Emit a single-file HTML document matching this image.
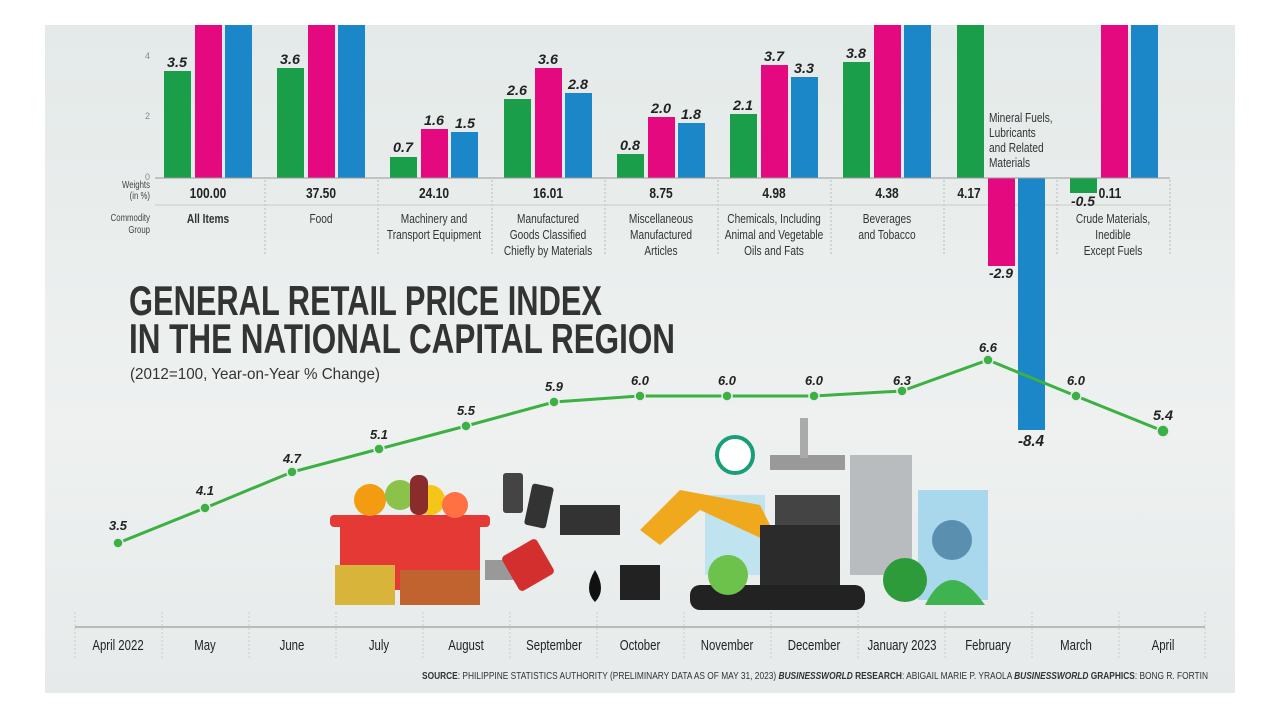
<!DOCTYPE html>
<html><head><meta charset="utf-8"><style>
html,body{margin:0;padding:0;background:#fff;}
svg{display:block;font-family:"Liberation Sans Narrow","Liberation Sans",sans-serif;}
</style></head><body>
<svg width="1280" height="720" viewBox="0 0 1280 720" xmlns="http://www.w3.org/2000/svg">
<defs>
<linearGradient id="bg" x1="0" y1="0" x2="0" y2="1">
<stop offset="0" stop-color="#e4eae9"/><stop offset="0.6" stop-color="#eef1f0"/><stop offset="1" stop-color="#e6eaea"/>
</linearGradient>
</defs>
<rect width="1280" height="720" fill="#fff"/>
<rect x="45" y="25" width="1190" height="668" fill="url(#bg)"/>

<g font-size="9" fill="#888" text-anchor="end">
<text x="150" y="59">4</text><text x="150" y="119">2</text><text x="150" y="180">0</text>
</g>

<g stroke="#bbb" stroke-dasharray="2,2" stroke-width="1">
<line x1="265" y1="180" x2="265" y2="255"/><line x1="378" y1="180" x2="378" y2="255"/>
<line x1="492" y1="180" x2="492" y2="255"/><line x1="605" y1="180" x2="605" y2="255"/>
<line x1="718" y1="180" x2="718" y2="255"/><line x1="831" y1="180" x2="831" y2="255"/>
<line x1="944" y1="180" x2="944" y2="255"/><line x1="1057" y1="180" x2="1057" y2="255"/>
<line x1="1170" y1="180" x2="1170" y2="255"/>
</g>
<line x1="155" y1="205" x2="1170" y2="205" stroke="#ccc" stroke-width="1"/>

<g>
<rect x="164" y="71" width="27" height="107" fill="#1a9e4a"/>
<rect x="195" y="25" width="27" height="153" fill="#e5097f"/>
<rect x="225" y="25" width="27" height="153" fill="#1b86c8"/>
<rect x="277" y="68" width="27" height="110" fill="#1a9e4a"/>
<rect x="308" y="25" width="27" height="153" fill="#e5097f"/>
<rect x="338" y="25" width="27" height="153" fill="#1b86c8"/>
<rect x="390" y="157" width="27" height="21" fill="#1a9e4a"/>
<rect x="421" y="129" width="27" height="49" fill="#e5097f"/>
<rect x="451" y="132" width="27" height="46" fill="#1b86c8"/>
<rect x="504" y="99" width="27" height="79" fill="#1a9e4a"/>
<rect x="535" y="68" width="27" height="110" fill="#e5097f"/>
<rect x="565" y="93" width="27" height="85" fill="#1b86c8"/>
<rect x="617" y="154" width="27" height="24" fill="#1a9e4a"/>
<rect x="648" y="117" width="27" height="61" fill="#e5097f"/>
<rect x="678" y="123" width="27" height="55" fill="#1b86c8"/>
<rect x="730" y="114" width="27" height="64" fill="#1a9e4a"/>
<rect x="761" y="65" width="27" height="113" fill="#e5097f"/>
<rect x="791" y="77" width="27" height="101" fill="#1b86c8"/>
<rect x="843" y="62" width="27" height="116" fill="#1a9e4a"/>
<rect x="874" y="25" width="27" height="153" fill="#e5097f"/>
<rect x="904" y="25" width="27" height="153" fill="#1b86c8"/>
<rect x="957" y="25" width="27" height="153" fill="#1a9e4a"/>
<rect x="988" y="178" width="27" height="88" fill="#e5097f"/>
<rect x="1018" y="178" width="27" height="252" fill="#1b86c8"/>
<rect x="1070" y="178" width="27" height="15" fill="#1a9e4a"/>
<rect x="1101" y="25" width="27" height="153" fill="#e5097f"/>
<rect x="1131" y="25" width="27" height="153" fill="#1b86c8"/>
</g>
<line x1="155" y1="178" x2="1170" y2="178" stroke="#999" stroke-width="1"/>

<g font-size="14" font-style="italic" font-weight="bold" fill="#222" text-anchor="middle">
<text x="177" y="67" textLength="20" lengthAdjust="spacingAndGlyphs">3.5</text>
<text x="290" y="64" textLength="20" lengthAdjust="spacingAndGlyphs">3.6</text>
<text x="403" y="152" textLength="20" lengthAdjust="spacingAndGlyphs">0.7</text><text x="434" y="125" textLength="20" lengthAdjust="spacingAndGlyphs">1.6</text><text x="465" y="128" textLength="20" lengthAdjust="spacingAndGlyphs">1.5</text>
<text x="517" y="95" textLength="20" lengthAdjust="spacingAndGlyphs">2.6</text><text x="548" y="64" textLength="20" lengthAdjust="spacingAndGlyphs">3.6</text><text x="578" y="89" textLength="20" lengthAdjust="spacingAndGlyphs">2.8</text>
<text x="630" y="150" textLength="20" lengthAdjust="spacingAndGlyphs">0.8</text><text x="661" y="113" textLength="20" lengthAdjust="spacingAndGlyphs">2.0</text><text x="691" y="119" textLength="20" lengthAdjust="spacingAndGlyphs">1.8</text>
<text x="743" y="110" textLength="20" lengthAdjust="spacingAndGlyphs">2.1</text><text x="774" y="61" textLength="20" lengthAdjust="spacingAndGlyphs">3.7</text><text x="804" y="73" textLength="20" lengthAdjust="spacingAndGlyphs">3.3</text>
<text x="856" y="58" textLength="20" lengthAdjust="spacingAndGlyphs">3.8</text>
<text x="1001" y="278" textLength="24" lengthAdjust="spacingAndGlyphs">-2.9</text>
<text x="1031" y="446" font-size="16" textLength="26" lengthAdjust="spacingAndGlyphs">-8.4</text>
<text x="1083" y="206" textLength="24" lengthAdjust="spacingAndGlyphs">-0.5</text>
</g>

<g font-size="10" fill="#444" text-anchor="end">
<g transform="translate(150 0) scale(0.78 1)">
<text x="0" y="188">Weights</text><text x="0" y="199">(in %)</text>
<text x="0" y="221">Commodity</text><text x="0" y="233">Group</text>
</g></g>
<g font-size="15" font-weight="bold" fill="#222" text-anchor="middle">
<g transform="translate(208 0) scale(0.8 1)"><text x="0" y="198">100.00</text></g>
<g transform="translate(321 0) scale(0.8 1)"><text x="0" y="198">37.50</text></g>
<g transform="translate(434 0) scale(0.8 1)"><text x="0" y="198">24.10</text></g>
<g transform="translate(548 0) scale(0.8 1)"><text x="0" y="198">16.01</text></g>
<g transform="translate(661 0) scale(0.8 1)"><text x="0" y="198">8.75</text></g>
<g transform="translate(774 0) scale(0.8 1)"><text x="0" y="198">4.98</text></g>
<g transform="translate(887 0) scale(0.8 1)"><text x="0" y="198">4.38</text></g>
<g transform="translate(969 0) scale(0.8 1)"><text x="0" y="198">4.17</text></g>
<g transform="translate(1110 0) scale(0.8 1)"><text x="0" y="198">0.11</text></g>
</g>
<g font-size="13" fill="#333" text-anchor="middle">
<g transform="translate(208 0) scale(0.78 1)"><text x="0" y="223" font-weight="bold">All Items</text></g>
<g transform="translate(321 0) scale(0.78 1)"><text x="0" y="223">Food</text></g>
<g transform="translate(434 0) scale(0.78 1)"><text x="0" y="223">Machinery and</text><text x="0" y="239">Transport Equipment</text></g>
<g transform="translate(548 0) scale(0.78 1)"><text x="0" y="223">Manufactured</text><text x="0" y="239">Goods Classified</text><text x="0" y="255">Chiefly by Materials</text></g>
<g transform="translate(661 0) scale(0.78 1)"><text x="0" y="223">Miscellaneous</text><text x="0" y="239">Manufactured</text><text x="0" y="255">Articles</text></g>
<g transform="translate(774 0) scale(0.78 1)"><text x="0" y="223">Chemicals, Including</text><text x="0" y="239">Animal and Vegetable</text><text x="0" y="255">Oils and Fats</text></g>
<g transform="translate(887 0) scale(0.78 1)"><text x="0" y="223">Beverages</text><text x="0" y="239">and Tobacco</text></g>
<g transform="translate(1113 0) scale(0.78 1)"><text x="0" y="223">Crude Materials,</text><text x="0" y="239">Inedible</text><text x="0" y="255">Except Fuels</text></g>
</g>
<g font-size="13" fill="#333">
<g transform="translate(989 0) scale(0.78 1)">
<text x="0" y="122">Mineral Fuels,</text><text x="0" y="137">Lubricants</text>
<text x="0" y="152">and Related</text><text x="0" y="167">Materials</text>
</g></g>

<g fill="#333" font-weight="bold" font-size="42">
<text x="129" y="315" textLength="473" lengthAdjust="spacingAndGlyphs">GENERAL RETAIL PRICE INDEX</text>
<text x="129" y="353" textLength="546" lengthAdjust="spacingAndGlyphs">IN THE NATIONAL CAPITAL REGION</text>
</g>
<text x="130" y="379" font-size="16" fill="#333" textLength="250" lengthAdjust="spacingAndGlyphs">(2012=100, Year-on-Year % Change)</text>

<g>
<rect x="340" y="520" width="140" height="70" rx="4" fill="#e53935"/>
<rect x="330" y="515" width="160" height="12" rx="4" fill="#e53935"/>
<circle cx="370" cy="500" r="16" fill="#f39c12"/><circle cx="400" cy="495" r="15" fill="#8bc34a"/>
<circle cx="430" cy="500" r="15" fill="#f5c518"/><circle cx="455" cy="505" r="13" fill="#ff7043"/>
<rect x="410" y="475" width="18" height="40" rx="8" fill="#8b2c2c"/>
<rect x="335" y="565" width="60" height="40" fill="#d8b43a"/>
<rect x="400" y="570" width="80" height="35" fill="#c0632f"/>
<rect x="503" y="473" width="20" height="40" rx="3" fill="#444"/>
<rect x="528" y="485" width="22" height="42" rx="3" fill="#333" transform="rotate(12 539 506)"/>
<rect x="560" y="505" width="60" height="30" fill="#333"/>
<rect x="485" y="560" width="40" height="20" fill="#999"/>
<rect x="508" y="545" width="40" height="40" rx="4" fill="#d32f2f" transform="rotate(-30 528 565)"/>
<path d="M595 570 q-12 20 0 32 q12 -12 0 -32z" fill="#111"/>
<rect x="705" y="495" width="60" height="80" fill="#bfe3ef"/>
<path d="M640 530 L680 490 L760 505 L775 535 L765 540 L700 510 L660 545z" fill="#f0a81c"/>
<rect x="620" y="565" width="40" height="35" fill="#222"/>
<rect x="775" y="495" width="65" height="80" fill="#444"/>
<rect x="760" y="525" width="80" height="60" fill="#2b2b2b"/>
<rect x="690" y="585" width="175" height="25" rx="10" fill="#222"/>
<circle cx="735" cy="455" r="18" fill="#fff" stroke="#1a9e7a" stroke-width="4"/>
<rect x="770" y="455" width="75" height="15" fill="#999"/>
<rect x="800" y="418" width="8" height="40" fill="#aaa"/>
<rect x="850" y="455" width="62" height="120" fill="#b9bcbf"/>
<rect x="918" y="490" width="70" height="110" fill="#a9d8ec"/>
<circle cx="952" cy="540" r="20" fill="#5a8fb0"/>
<circle cx="905" cy="580" r="22" fill="#2e9b3a"/>
<path d="M925 605 q25 -50 60 0z" fill="#3fb34f"/>
<rect x="708" y="555" width="40" height="40" rx="20" fill="#6cc24a"/>
</g>

<polyline fill="none" stroke="#3cb043" stroke-width="3"
points="118,543 205,508 292,472 379,449 466,426 554,402 640,396 727,396 814,396 902,391 988,360 1076,396 1163,431"/>
<g fill="#3cb043" stroke="#e8eeec" stroke-width="1.5">
<circle cx="118" cy="543" r="5"/><circle cx="205" cy="508" r="5"/><circle cx="292" cy="472" r="5"/>
<circle cx="379" cy="449" r="5"/><circle cx="466" cy="426" r="5"/><circle cx="554" cy="402" r="5"/>
<circle cx="640" cy="396" r="5"/><circle cx="727" cy="396" r="5"/><circle cx="814" cy="396" r="5"/>
<circle cx="902" cy="391" r="5"/><circle cx="988" cy="360" r="5"/><circle cx="1076" cy="396" r="5"/>
<circle cx="1163" cy="431" r="6"/>
</g>
<g font-size="13" font-style="italic" font-weight="bold" fill="#222" text-anchor="middle">
<text x="118" y="530" textLength="18" lengthAdjust="spacingAndGlyphs">3.5</text><text x="205" y="495" textLength="18" lengthAdjust="spacingAndGlyphs">4.1</text><text x="292" y="463" textLength="18" lengthAdjust="spacingAndGlyphs">4.7</text>
<text x="379" y="439" textLength="18" lengthAdjust="spacingAndGlyphs">5.1</text><text x="466" y="415" textLength="18" lengthAdjust="spacingAndGlyphs">5.5</text><text x="554" y="391" textLength="18" lengthAdjust="spacingAndGlyphs">5.9</text>
<text x="640" y="385" textLength="18" lengthAdjust="spacingAndGlyphs">6.0</text><text x="727" y="385" textLength="18" lengthAdjust="spacingAndGlyphs">6.0</text><text x="814" y="385" textLength="18" lengthAdjust="spacingAndGlyphs">6.0</text>
<text x="902" y="385" textLength="18" lengthAdjust="spacingAndGlyphs">6.3</text><text x="988" y="352" textLength="18" lengthAdjust="spacingAndGlyphs">6.6</text><text x="1076" y="385" textLength="18" lengthAdjust="spacingAndGlyphs">6.0</text>
<text x="1163" y="420" font-size="14" textLength="20" lengthAdjust="spacingAndGlyphs">5.4</text>
</g>

<line x1="75" y1="627" x2="1205" y2="627" stroke="#aaa" stroke-width="1.5"/>
<g stroke="#ccc" stroke-dasharray="2,2">
<line x1="75" y1="612" x2="75" y2="660"/><line x1="162" y1="612" x2="162" y2="660"/>
<line x1="249" y1="612" x2="249" y2="660"/><line x1="336" y1="612" x2="336" y2="660"/>
<line x1="423" y1="612" x2="423" y2="660"/><line x1="510" y1="612" x2="510" y2="660"/>
<line x1="597" y1="612" x2="597" y2="660"/><line x1="684" y1="612" x2="684" y2="660"/>
<line x1="771" y1="612" x2="771" y2="660"/><line x1="858" y1="612" x2="858" y2="660"/>
<line x1="945" y1="612" x2="945" y2="660"/><line x1="1032" y1="612" x2="1032" y2="660"/>
<line x1="1119" y1="612" x2="1119" y2="660"/><line x1="1205" y1="612" x2="1205" y2="660"/>
</g>
<g font-size="15" fill="#222" text-anchor="middle">
<g transform="translate(118 0) scale(0.76 1)"><text x="0" y="650">April 2022</text></g>
<g transform="translate(205 0) scale(0.76 1)"><text x="0" y="650">May</text></g>
<g transform="translate(292 0) scale(0.76 1)"><text x="0" y="650">June</text></g>
<g transform="translate(379 0) scale(0.76 1)"><text x="0" y="650">July</text></g>
<g transform="translate(466 0) scale(0.76 1)"><text x="0" y="650">August</text></g>
<g transform="translate(554 0) scale(0.76 1)"><text x="0" y="650">September</text></g>
<g transform="translate(640 0) scale(0.76 1)"><text x="0" y="650">October</text></g>
<g transform="translate(727 0) scale(0.76 1)"><text x="0" y="650">November</text></g>
<g transform="translate(814 0) scale(0.76 1)"><text x="0" y="650">December</text></g>
<g transform="translate(902 0) scale(0.76 1)"><text x="0" y="650">January 2023</text></g>
<g transform="translate(988 0) scale(0.76 1)"><text x="0" y="650">February</text></g>
<g transform="translate(1076 0) scale(0.76 1)"><text x="0" y="650">March</text></g>
<g transform="translate(1163 0) scale(0.76 1)"><text x="0" y="650">April</text></g>
</g>
<text x="1208" y="679" font-size="10" fill="#333" text-anchor="end" textLength="786" lengthAdjust="spacingAndGlyphs"><tspan font-weight="bold">SOURCE</tspan>: PHILIPPINE STATISTICS AUTHORITY (PRELIMINARY DATA AS OF MAY 31, 2023)       <tspan font-weight="bold" font-style="italic">BUSINESSWORLD</tspan><tspan font-weight="bold"> RESEARCH</tspan>: ABIGAIL MARIE P. YRAOLA       <tspan font-weight="bold" font-style="italic">BUSINESSWORLD</tspan><tspan font-weight="bold"> GRAPHICS</tspan>: BONG R. FORTIN</text>
</svg>
</body></html>
